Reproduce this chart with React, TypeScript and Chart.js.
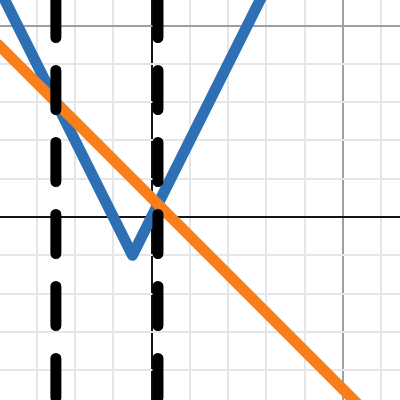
import React, { useEffect, useRef } from "react";
import Chart from "chart.js/auto";

// visible window (graph units)
const xRange = [-3.96, 6.49];
const yRange = [-4.78, 5.67];

// grid lines, one per unit
const gridX = [-3, -2, -1, 0, 1, 2, 3, 4, 5, 6];
const gridY = [-4, -3, -2, -1, 0, 1, 2, 3, 4, 5];

// blue V: y = |2x + 1| - 1
const blueX = [-4, -0.5, 3];
const blueY = [6, -1, 6];

// orange line: y = -x + 0.5
const orangeX = [-4, 7];
const orangeY = [4.5, -6.5];

// dashed verticals at the two crossings
const dashX = [-2.5, 0.1667];

const BLUE = "#2d70b3";
const ORANGE = "#fa7e19";

const toPoints = (xs: number[], ys: number[]) =>
  xs.map((x, i) => ({ x, y: ys[i] }));

export default function App() {
  const canvasRef = useRef<HTMLCanvasElement>(null);

  useEffect(() => {
    document.body.style.margin = "0";
    if (!canvasRef.current) return;

    const gridColor = (v: number) =>
      v === 0 ? "#151515" : v % 5 === 0 ? "#a0a0a0" : "#e6e6e6";

    const chart = new Chart(canvasRef.current, {
      type: "scatter",
      data: {
        datasets: [
          ...dashX.map((x) => ({
            data: toPoints([x, x], [yRange[1], yRange[0]]),
            showLine: true,
            borderColor: "#000000",
            borderWidth: 11,
            borderDash: [39, 33],
            borderDashOffset: 1.5,
            borderCapStyle: "round" as const,
            pointRadius: 0,
            order: 0,
          })),
          {
            data: toPoints(orangeX, orangeY),
            showLine: true,
            borderColor: ORANGE,
            borderWidth: 11,
            borderCapStyle: "round" as const,
            pointRadius: 0,
            order: 1,
          },
          {
            data: toPoints(blueX, blueY),
            showLine: true,
            borderColor: BLUE,
            borderWidth: 11,
            borderJoinStyle: "round" as const,
            borderCapStyle: "round" as const,
            pointRadius: 0,
            order: 2,
          },
        ],
      },
      options: {
        animation: false,
        responsive: false,
        devicePixelRatio: 1,
        layout: { padding: 0 },
        plugins: { legend: { display: false }, tooltip: { enabled: false } },
        scales: {
          x: {
            type: "linear",
            min: xRange[0],
            max: xRange[1],
            afterBuildTicks: (scale) => {
              scale.ticks = gridX.map((v) => ({ value: v }));
            },
            ticks: { display: false },
            border: { display: false },
            grid: {
              drawTicks: false,
              color: (ctx) => gridColor(ctx.tick.value),
              lineWidth: 2,
            },
          },
          y: {
            type: "linear",
            min: yRange[0],
            max: yRange[1],
            afterBuildTicks: (scale) => {
              scale.ticks = gridY.map((v) => ({ value: v }));
            },
            ticks: { display: false },
            border: { display: false },
            grid: {
              drawTicks: false,
              color: (ctx) => gridColor(ctx.tick.value),
              lineWidth: 2,
            },
          },
        },
      },
    });

    return () => chart.destroy();
  }, []);

  return (
    <div style={{ width: 400, height: 400, background: "#ffffff" }}>
      <canvas ref={canvasRef} width={400} height={400} />
    </div>
  );
}
